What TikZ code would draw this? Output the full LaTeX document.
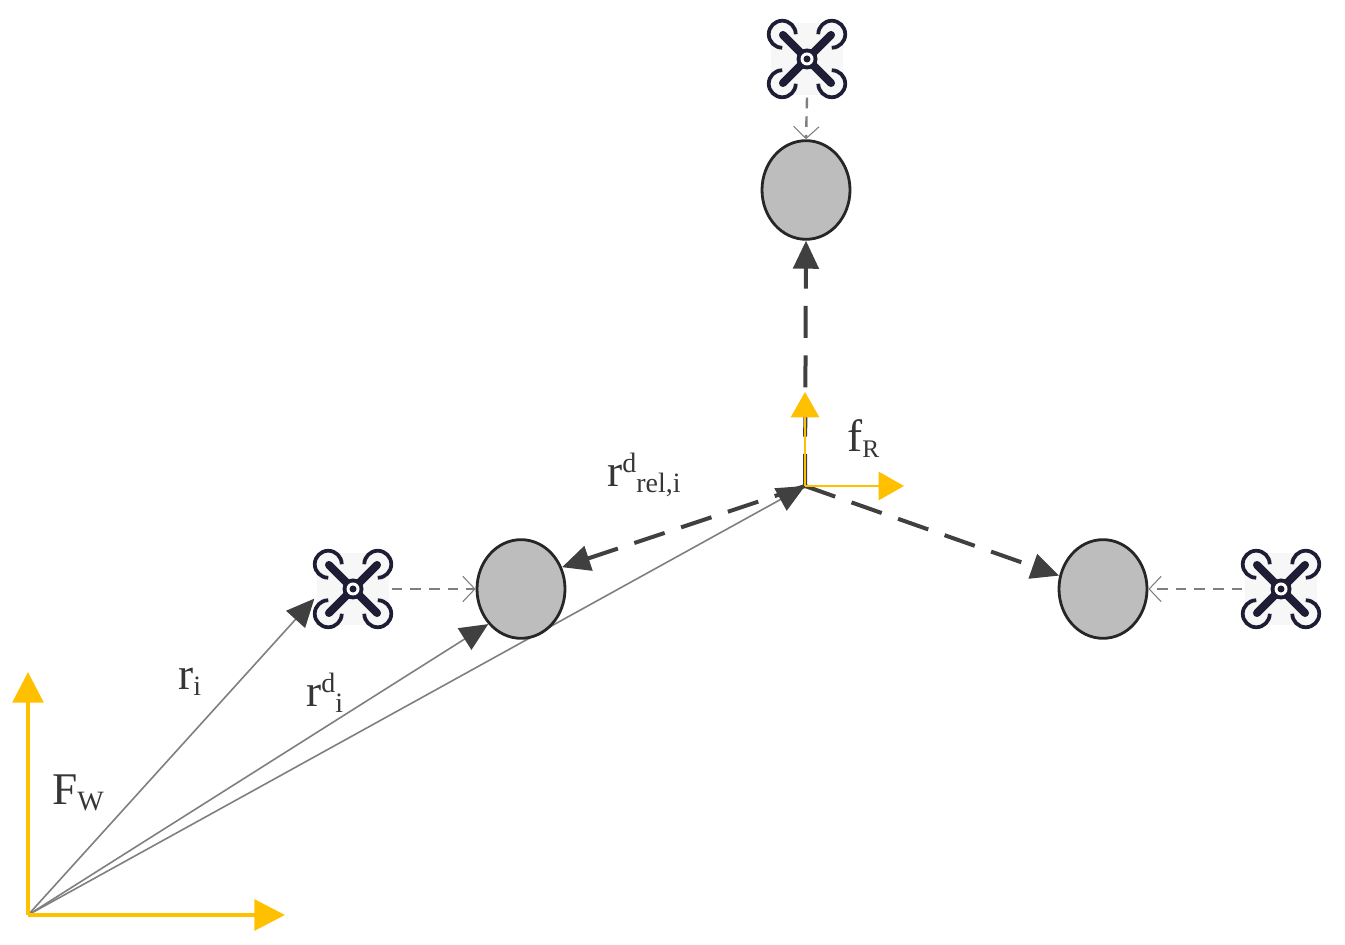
\documentclass[tikz,border=0pt]{standalone}
\usepackage{fontspec}
\setmainfont{Liberation Serif}
\usetikzlibrary{arrows.meta,shapes.geometric}

\definecolor{frameyellow}{HTML}{FFC000}
\definecolor{darkarrow}{HTML}{404040}
\definecolor{thingray}{HTML}{7F7F7F}
\definecolor{dronenavy}{HTML}{1D1D35}
\definecolor{labelgray}{HTML}{363636}

\newcommand{\subtxt}[1]{\raisebox{-4pt}{\fontsize{21}{21}\selectfont #1}}
\newcommand{\subsmall}[1]{\raisebox{-4pt}{\fontsize{19}{19}\selectfont #1}}
\newcommand{\suptxt}[1]{\raisebox{11pt}{\fontsize{21}{21}\selectfont #1}}

\tikzset{
  target/.style={ellipse, draw=black!85, line width=2.1pt, fill=black!26,
    minimum width=66pt, minimum height=74pt, inner sep=0pt},
  dronebox/.style={fill=black!3, minimum size=54pt, inner sep=0pt, outer sep=2pt},
  framearrow/.style={frameyellow, line width=3pt, -{Triangle[length=23pt,width=23pt]}},
  smallframe/.style={frameyellow, line width=2.2pt, -{Triangle[length=19pt,width=21pt]}},
  posline/.style={thingray, line width=1.2pt, -{Triangle[length=21pt,width=19pt,color=darkarrow]}},
  relline/.style={darkarrow, line width=3pt, dash pattern=on 24pt off 13pt,
    -{Triangle[length=21pt,width=19pt]}},
  linkline/.style={thingray, line width=1.8pt, dash pattern=on 8pt off 6pt,
    -{Straight Barb[length=9pt,width=19pt,line width=.8pt]}},
  lbl/.style={labelgray, anchor=base west, inner sep=0pt, font=\fontsize{34}{36}\selectfont},
  drone/.pic={
    \foreach \a in {45,135,225,315}{
      \draw[dronenavy, line width=6pt, line cap=round, rotate=\a] (0,0) -- (34,0);
      \draw[dronenavy, line width=2.8pt, rotate=\a] (35,0) ++(-135:13.5)
        arc[start angle=-135, end angle=135, radius=13.5];
    }
    \fill[dronenavy] (0,0) circle (10.5);
    \fill[white] (0,0) circle (6.5);
    \fill[dronenavy] (0,0) circle (3.5);
  }
}

\begin{document}
\begin{tikzpicture}[x=0.75pt,y=0.75pt]
  \useasboundingbox (0,0) rectangle (1345,945);

  % Frame origins
  \coordinate (worigin) at (28,30);
  \coordinate (wup) at (28,273);
  \coordinate (wright) at (285,30);
  \coordinate (rorigin) at (805,459);
  \coordinate (rup) at (805,553);
  \coordinate (rright) at (904,459);

  % This one passes behind the left target
  \draw[posline] (worigin) -- (rorigin);

  % Targets
  \node[target] (targetT) at (806,755) {};
  \node[target] (targetL) at (521,356) {};
  \node[target] (targetR) at (1103,356) {};

  % Drones
  \foreach \name/\x/\y in {droneT/807/886, droneL/353/356, droneR/1281/356}{
    \node[dronebox] (\name) at (\x,\y) {};
    \pic at (\name) {drone};
  }

  % Relative vectors
  \draw[relline] (rorigin) -- (targetT.south);
  \draw[relline] (rorigin) -- (targetL.28);
  \draw[relline] (rorigin) -- (targetR.163);

  % Drone to target
  \draw[linkline] (droneT.south) -- (targetT.north);
  \draw[linkline] (droneL.east) -- (targetL.west);
  \draw[linkline] (droneR.west) -- (targetR.east);

  % Position vectors
  \draw[posline] (worigin) -- (droneL.194);
  \draw[posline] (worigin) -- (targetL.227);

  % Yellow frames
  \draw[framearrow] (worigin) -- (wup);
  \draw[framearrow] (worigin) -- (wright);
  \draw[smallframe] (rorigin) -- (rup);
  \draw[smallframe] (rorigin) -- (rright);

  % Labels
  \node[lbl] (lblFw) at (52,140) {F\subtxt{W}};
  \node[lbl] (lblri) at (178,255) {r\subtxt{i}};
  \node[lbl] (lblrd) at (306,238) {r\suptxt{d}\subtxt{i}};
  \node[lbl] (lblrel) at (607,458) {r\suptxt{d}\subtxt{rel,i}};
  \node[lbl] (lblfR) at (847,493) {f\subsmall{R}};
\end{tikzpicture}
\end{document}
